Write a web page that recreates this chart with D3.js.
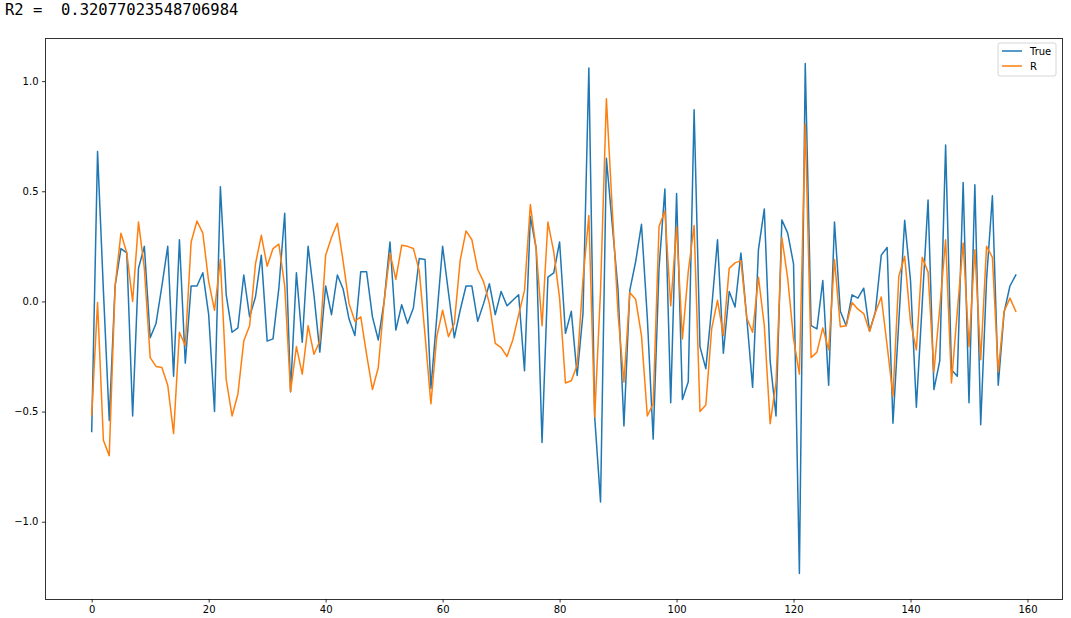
<!doctype html>
<html>
  <meta charset="utf-8">
  <head>
    <script src="https://d3js.org/d3.v7.min.js"></script>
    <style type='text/css'>
      body{ margin:0; background:#fff; }
      #r2{
        position:absolute; left:5px; top:1px;
        font-family:'DejaVu Sans Mono',monospace; font-size:15.5px; color:#000;
        white-space:pre;
      }
      g.tick line{ stroke:#000; stroke-width:0.8px; }
      g.tick text{ font-family:'DejaVu Sans',sans-serif; font-size:10px; fill:#000; }
      path.domain{ display:none; }
      .frame{ fill:none; stroke:#000; stroke-width:0.8px; shape-rendering:crispEdges; }
      .series{ fill:none; stroke-width:1.5px; stroke-linejoin:round; stroke-linecap:square; }
      .legend text{ font-family:'DejaVu Sans',sans-serif; font-size:10px; fill:#000; }
    </style>
  </head>
  <body>
    <div id="r2">R2 =  0.32077023548706984</div>
    <svg id='chart'></svg>
    <script type='text/javascript'>
      // values
      var trueVals = [
        -0.59, 0.68, 0.05, -0.54, 0.07, 0.24, 0.22, -0.52, 0.15, 0.25,
        -0.165, -0.10, 0.07, 0.25, -0.34, 0.28, -0.28, 0.07, 0.07, 0.13,
        -0.06, -0.50, 0.52, 0.03, -0.14, -0.12, 0.12, -0.07, 0.02, 0.21,
        -0.18, -0.17, 0.06, 0.40, -0.41, 0.13, -0.185, 0.25, 0.03, -0.23,
        0.07, -0.06, 0.12, 0.055, -0.08, -0.155, 0.135, 0.135, -0.07, -0.175,
        0.00, 0.27, -0.13, -0.015, -0.10, -0.03, 0.195, 0.19, -0.395, -0.07,
        0.25, 0.04, -0.165, -0.04, 0.07, 0.07, -0.09, -0.01, 0.08, -0.06,
        0.045, -0.02, 0.005, 0.03, -0.315, 0.385, 0.24, -0.64, 0.11, 0.13,
        0.27, -0.145, -0.045, -0.336, -0.055, 1.06, -0.525, -0.91, 0.65, 0.35,
        0.05, -0.565, 0.05, 0.18, 0.35, -0.075, -0.625, 0.15, 0.51, -0.46,
        0.49, -0.445, -0.365, 0.87, -0.205, -0.305, -0.03, 0.28, -0.235, 0.045,
        -0.025, 0.22, -0.075, -0.39, 0.235, 0.42, -0.27, -0.52, 0.37, 0.31,
        0.17, -1.235, 1.08, -0.11, -0.125, 0.095, -0.38, 0.36, -0.045, -0.11,
        0.03, 0.015, 0.06, -0.135, -0.045, 0.21, 0.245, -0.553, -0.09, 0.368,
        0.095, -0.48, -0.01, 0.46, -0.40, -0.27, 0.71, -0.31, -0.34, 0.54,
        -0.46, 0.53, -0.56, 0.1, 0.48, -0.38, -0.05, 0.07, 0.12
      ];
      var rVals = [
        -0.515, -0.005, -0.63, -0.70, 0.07, 0.31, 0.22, 0.00, 0.36, 0.15,
        -0.255, -0.295, -0.30, -0.38, -0.60, -0.14, -0.20, 0.27, 0.365, 0.31,
        0.09, -0.04, 0.19, -0.355, -0.52, -0.42, -0.18, -0.11, 0.17, 0.30,
        0.16, 0.24, 0.26, 0.07, -0.41, -0.205, -0.33, -0.11, -0.24, -0.18,
        0.21, 0.29, 0.355, 0.18, -0.01, -0.09, -0.07, -0.24, -0.40, -0.30,
        0.00, 0.22, 0.10, 0.255, 0.25, 0.24, 0.14, -0.155, -0.465, -0.16,
        -0.04, -0.16, -0.10, 0.186, 0.32, 0.28, 0.145, 0.09, -0.01, -0.19,
        -0.21, -0.25, -0.175, -0.06, 0.05, 0.44, 0.235, -0.11, 0.36, 0.225,
        0.015, -0.37, -0.36, -0.29, 0.10, 0.39, -0.525, 0.05, 0.92, 0.42,
        -0.06, -0.367, 0.04, 0.01, -0.155, -0.52, -0.465, 0.34, 0.41, -0.02,
        0.34, -0.17, 0.135, 0.345, -0.50, -0.47, -0.125, 0.005, -0.155, 0.15,
        0.175, 0.185, -0.075, -0.14, 0.11, -0.11, -0.555, -0.37, 0.29, 0.105,
        -0.17, -0.33, 0.805, -0.255, -0.23, -0.12, -0.22, 0.19, -0.115, -0.11,
        -0.005, -0.035, -0.055, -0.135, -0.05, 0.02, -0.20, -0.43, 0.114, 0.205,
        -0.094, -0.22, 0.20, 0.133, -0.32, -0.03, 0.28, -0.37, -0.045, 0.265,
        -0.205, 0.235, -0.265, 0.25, 0.20, -0.32, -0.045, 0.015, -0.045
      ];
      var seriesNames = ['True', 'R'];
      var seriesColors = ['#1f77b4', '#ff7f0e'];
      var xTicks = [0, 20, 40, 60, 80, 100, 120, 140, 160];
      var yTicks = [-1.0, -0.5, 0.0, 0.5, 1.0];

      var w = 1071, h = 618;
      // plot box (names avoid window.top etc.)
      var pLeft = 45.5, pRight = 1062, pTop = 38, pBottom = 599;
      var svg = d3.select('#chart').attr('width', w).attr('height', h)
        .style('position', 'absolute').style('left', 0).style('top', 0);

      // matplotlib style 5% margins
      var n = trueVals.length;
      var xPad = (n - 1) * 0.05;
      var allVals = trueVals.concat(rVals);
      var yExt = d3.extent(allVals);
      var yPad = (yExt[1] - yExt[0]) * 0.05;

      var xScale = d3.scaleLinear().domain([-xPad, n - 1 + xPad]).range([pLeft, pRight]);
      var yScale = d3.scaleLinear().domain([yExt[0] - yPad, yExt[1] + yPad]).range([pBottom, pTop]);

      var xAxis = d3.axisBottom(xScale).tickValues(xTicks).tickSize(3.5).tickPadding(3.5)
        .tickFormat(d3.format('d'));
      var yAxis = d3.axisLeft(yScale).tickValues(yTicks).tickSize(3.5).tickPadding(3.5)
        .tickFormat(d3.format('.1f'));

      svg.append('g').attr('transform', 'translate(0,' + pBottom + ')').call(xAxis);
      svg.append('g').attr('transform', 'translate(' + pLeft + ',0)').call(yAxis);

      var line = d3.line()
        .x(function(d, i){ return xScale(i); })
        .y(function(d){ return yScale(d); });

      svg.selectAll('path.series')
        .data([trueVals, rVals]).enter()
        .append('path').attr('class', 'series')
        .attr('d', line)
        .style('stroke', function(d, i){ return seriesColors[i]; });

      svg.append('rect').attr('class', 'frame')
        .attr('x', pLeft).attr('y', pTop)
        .attr('width', pRight - pLeft).attr('height', pBottom - pTop);

      // legend
      var lg = svg.append('g').attr('class', 'legend')
        .attr('transform', 'translate(998,43)');
      lg.append('rect').attr('width', 58).attr('height', 33)
        .attr('rx', 2).attr('ry', 2)
        .style('fill', '#fff').style('fill-opacity', 0.8)
        .style('stroke', '#ccc').style('stroke-width', 0.8);
      seriesNames.forEach(function(name, i){
        var g = lg.append('g').attr('transform', 'translate(0,' + (8 + i * 15) + ')');
        g.append('line').attr('x1', 4).attr('x2', 24).attr('y1', 0).attr('y2', 0)
          .style('stroke', seriesColors[i]).style('stroke-width', 1.5);
        g.append('text').attr('x', 32).attr('y', 3.5).text(name);
      });
    </script>
  </body>
</html>
